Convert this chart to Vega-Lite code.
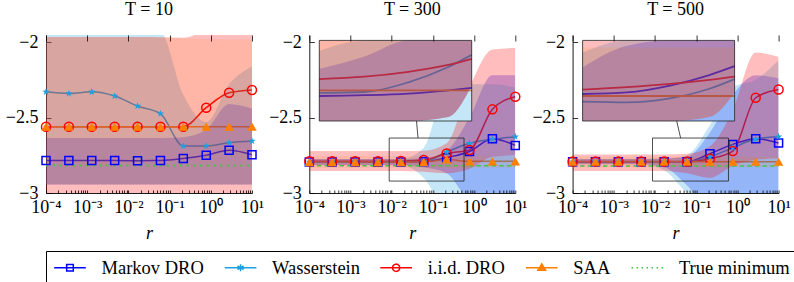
{
  "$schema": "https://vega.github.io/schema/vega-lite/v6.json",
  "padding": {"left": 5, "top": 1, "right": 0, "bottom": 0},
  "bounds": "flush",
  "spacing": 57.3,
  "datasets": {
    "main": [
      {"T":10,"method":"Markov DRO","r":0.0001,"mean":-2.785,"lo":-2.943,"hi":-2.635},
      {"T":10,"method":"Markov DRO","r":0.00035938,"mean":-2.785,"lo":-2.943,"hi":-2.635},
      {"T":10,"method":"Markov DRO","r":0.0012915,"mean":-2.785,"lo":-2.943,"hi":-2.635},
      {"T":10,"method":"Markov DRO","r":0.0046416,"mean":-2.785,"lo":-2.943,"hi":-2.635},
      {"T":10,"method":"Markov DRO","r":0.016681,"mean":-2.786,"lo":-2.943,"hi":-2.635},
      {"T":10,"method":"Markov DRO","r":0.059948,"mean":-2.785,"lo":-2.943,"hi":-2.635},
      {"T":10,"method":"Markov DRO","r":0.21544,"mean":-2.772,"lo":-2.943,"hi":-2.63},
      {"T":10,"method":"Markov DRO","r":0.77426,"mean":-2.75,"lo":-2.943,"hi":-2.58},
      {"T":10,"method":"Markov DRO","r":2.7826,"mean":-2.717,"lo":-2.943,"hi":-2.41},
      {"T":10,"method":"Markov DRO","r":10,"mean":-2.747,"lo":-2.943,"hi":-2.44},
      {"T":10,"method":"Wasserstein","r":0.0001,"mean":-2.33,"lo":-2.943,"hi":-1.9},
      {"T":10,"method":"Wasserstein","r":0.00035938,"mean":-2.341,"lo":-2.943,"hi":-1.9},
      {"T":10,"method":"Wasserstein","r":0.0012915,"mean":-2.33,"lo":-2.943,"hi":-1.9},
      {"T":10,"method":"Wasserstein","r":0.0046416,"mean":-2.358,"lo":-2.943,"hi":-1.9},
      {"T":10,"method":"Wasserstein","r":0.016681,"mean":-2.424,"lo":-2.943,"hi":-1.9},
      {"T":10,"method":"Wasserstein","r":0.059948,"mean":-2.475,"lo":-2.943,"hi":-1.93},
      {"T":10,"method":"Wasserstein","r":0.21544,"mean":-2.689,"lo":-2.943,"hi":-2.35},
      {"T":10,"method":"Wasserstein","r":0.77426,"mean":-2.689,"lo":-2.943,"hi":-2.53},
      {"T":10,"method":"Wasserstein","r":2.7826,"mean":-2.667,"lo":-2.943,"hi":-2.28},
      {"T":10,"method":"Wasserstein","r":10,"mean":-2.656,"lo":-2.943,"hi":-2.16},
      {"T":10,"method":"i.i.d. DRO","r":0.0001,"mean":-2.561,"lo":-3.1,"hi":-1.967},
      {"T":10,"method":"i.i.d. DRO","r":0.00035938,"mean":-2.561,"lo":-3.1,"hi":-1.967},
      {"T":10,"method":"i.i.d. DRO","r":0.0012915,"mean":-2.561,"lo":-3.1,"hi":-1.967},
      {"T":10,"method":"i.i.d. DRO","r":0.0046416,"mean":-2.561,"lo":-3.1,"hi":-1.967},
      {"T":10,"method":"i.i.d. DRO","r":0.016681,"mean":-2.561,"lo":-3.1,"hi":-1.967},
      {"T":10,"method":"i.i.d. DRO","r":0.059948,"mean":-2.561,"lo":-3.1,"hi":-1.968},
      {"T":10,"method":"i.i.d. DRO","r":0.21544,"mean":-2.561,"lo":-3.1,"hi":-1.972},
      {"T":10,"method":"i.i.d. DRO","r":0.77426,"mean":-2.435,"lo":-3.1,"hi":-1.93},
      {"T":10,"method":"i.i.d. DRO","r":2.7826,"mean":-2.336,"lo":-3.1,"hi":-1.92},
      {"T":10,"method":"i.i.d. DRO","r":10,"mean":-2.318,"lo":-3.1,"hi":-1.92},
      {"T":10,"method":"SAA","r":0.0001,"mean":-2.561,"lo":-2.943,"hi":-1.968},
      {"T":10,"method":"SAA","r":0.00035938,"mean":-2.561,"lo":-2.943,"hi":-1.968},
      {"T":10,"method":"SAA","r":0.0012915,"mean":-2.561,"lo":-2.943,"hi":-1.968},
      {"T":10,"method":"SAA","r":0.0046416,"mean":-2.561,"lo":-2.943,"hi":-1.968},
      {"T":10,"method":"SAA","r":0.016681,"mean":-2.561,"lo":-2.943,"hi":-1.968},
      {"T":10,"method":"SAA","r":0.059948,"mean":-2.561,"lo":-2.943,"hi":-1.97},
      {"T":10,"method":"SAA","r":0.21544,"mean":-2.561,"lo":-2.943,"hi":-1.975},
      {"T":10,"method":"SAA","r":0.77426,"mean":-2.561,"lo":-2.943,"hi":-1.98},
      {"T":10,"method":"SAA","r":2.7826,"mean":-2.561,"lo":-2.943,"hi":-1.982},
      {"T":10,"method":"SAA","r":10,"mean":-2.561,"lo":-2.943,"hi":-1.985},
      {"T":10,"method":"True minimum","r":0.0001,"mean":-2.818},
      {"T":10,"method":"True minimum","r":10,"mean":-2.818},

      {"T":300,"method":"Markov DRO","r":0.0001,"mean":-2.794,"lo":-2.815,"hi":-2.775},
      {"T":300,"method":"Markov DRO","r":0.00035938,"mean":-2.794,"lo":-2.815,"hi":-2.775},
      {"T":300,"method":"Markov DRO","r":0.0012915,"mean":-2.794,"lo":-2.815,"hi":-2.775},
      {"T":300,"method":"Markov DRO","r":0.0046416,"mean":-2.794,"lo":-2.815,"hi":-2.775},
      {"T":300,"method":"Markov DRO","r":0.016681,"mean":-2.794,"lo":-2.815,"hi":-2.775},
      {"T":300,"method":"Markov DRO","r":0.059948,"mean":-2.793,"lo":-2.83,"hi":-2.77},
      {"T":300,"method":"Markov DRO","r":0.21544,"mean":-2.766,"lo":-2.87,"hi":-2.72},
      {"T":300,"method":"Markov DRO","r":0.77426,"mean":-2.725,"lo":-3.05,"hi":-2.5},
      {"T":300,"method":"Markov DRO","r":2.7826,"mean":-2.64,"lo":-3.1,"hi":-2.22},
      {"T":300,"method":"Markov DRO","r":10,"mean":-2.685,"lo":-3.1,"hi":-2.22},
      {"T":300,"method":"Wasserstein","r":0.0001,"mean":-2.794,"lo":-2.815,"hi":-2.775},
      {"T":300,"method":"Wasserstein","r":0.00035938,"mean":-2.794,"lo":-2.815,"hi":-2.775},
      {"T":300,"method":"Wasserstein","r":0.0012915,"mean":-2.794,"lo":-2.815,"hi":-2.775},
      {"T":300,"method":"Wasserstein","r":0.0046416,"mean":-2.794,"lo":-2.815,"hi":-2.775},
      {"T":300,"method":"Wasserstein","r":0.016681,"mean":-2.794,"lo":-2.815,"hi":-2.775},
      {"T":300,"method":"Wasserstein","r":0.059948,"mean":-2.792,"lo":-2.9,"hi":-2.7},
      {"T":300,"method":"Wasserstein","r":0.21544,"mean":-2.729,"lo":-3.1,"hi":-2.3},
      {"T":300,"method":"Wasserstein","r":0.77426,"mean":-2.671,"lo":-3.1,"hi":-2.28},
      {"T":300,"method":"Wasserstein","r":2.7826,"mean":-2.645,"lo":-3.1,"hi":-2.28},
      {"T":300,"method":"Wasserstein","r":10,"mean":-2.627,"lo":-3.1,"hi":-2.3},
      {"T":300,"method":"i.i.d. DRO","r":0.0001,"mean":-2.79,"lo":-2.855,"hi":-2.722},
      {"T":300,"method":"i.i.d. DRO","r":0.00035938,"mean":-2.79,"lo":-2.855,"hi":-2.722},
      {"T":300,"method":"i.i.d. DRO","r":0.0012915,"mean":-2.79,"lo":-2.855,"hi":-2.722},
      {"T":300,"method":"i.i.d. DRO","r":0.0046416,"mean":-2.79,"lo":-2.855,"hi":-2.722},
      {"T":300,"method":"i.i.d. DRO","r":0.016681,"mean":-2.788,"lo":-2.855,"hi":-2.722},
      {"T":300,"method":"i.i.d. DRO","r":0.059948,"mean":-2.781,"lo":-2.86,"hi":-2.72},
      {"T":300,"method":"i.i.d. DRO","r":0.21544,"mean":-2.738,"lo":-2.87,"hi":-2.67},
      {"T":300,"method":"i.i.d. DRO","r":0.77426,"mean":-2.715,"lo":-2.84,"hi":-2.3},
      {"T":300,"method":"i.i.d. DRO","r":2.7826,"mean":-2.446,"lo":-2.76,"hi":-2.05},
      {"T":300,"method":"i.i.d. DRO","r":10,"mean":-2.362,"lo":-2.75,"hi":-2.04},
      {"T":300,"method":"SAA","r":0.0001,"mean":-2.795,"lo":-2.832,"hi":-2.755},
      {"T":300,"method":"SAA","r":0.00035938,"mean":-2.795,"lo":-2.832,"hi":-2.755},
      {"T":300,"method":"SAA","r":0.0012915,"mean":-2.795,"lo":-2.832,"hi":-2.755},
      {"T":300,"method":"SAA","r":0.0046416,"mean":-2.795,"lo":-2.832,"hi":-2.755},
      {"T":300,"method":"SAA","r":0.016681,"mean":-2.795,"lo":-2.832,"hi":-2.755},
      {"T":300,"method":"SAA","r":0.059948,"mean":-2.795,"lo":-2.832,"hi":-2.755},
      {"T":300,"method":"SAA","r":0.21544,"mean":-2.778,"lo":-2.832,"hi":-2.755},
      {"T":300,"method":"SAA","r":0.77426,"mean":-2.79,"lo":-2.832,"hi":-2.755},
      {"T":300,"method":"SAA","r":2.7826,"mean":-2.79,"lo":-2.832,"hi":-2.755},
      {"T":300,"method":"SAA","r":10,"mean":-2.79,"lo":-2.832,"hi":-2.755},
      {"T":300,"method":"True minimum","r":0.0001,"mean":-2.82},
      {"T":300,"method":"True minimum","r":10,"mean":-2.82},

      {"T":500,"method":"Markov DRO","r":0.0001,"mean":-2.793,"lo":-2.81,"hi":-2.775},
      {"T":500,"method":"Markov DRO","r":0.00035938,"mean":-2.793,"lo":-2.81,"hi":-2.775},
      {"T":500,"method":"Markov DRO","r":0.0012915,"mean":-2.793,"lo":-2.81,"hi":-2.775},
      {"T":500,"method":"Markov DRO","r":0.0046416,"mean":-2.793,"lo":-2.81,"hi":-2.775},
      {"T":500,"method":"Markov DRO","r":0.016681,"mean":-2.793,"lo":-2.83,"hi":-2.77},
      {"T":500,"method":"Markov DRO","r":0.059948,"mean":-2.793,"lo":-2.95,"hi":-2.76},
      {"T":500,"method":"Markov DRO","r":0.21544,"mean":-2.74,"lo":-3.1,"hi":-2.6},
      {"T":500,"method":"Markov DRO","r":0.77426,"mean":-2.678,"lo":-3.1,"hi":-2.35},
      {"T":500,"method":"Markov DRO","r":2.7826,"mean":-2.64,"lo":-3.1,"hi":-2.22},
      {"T":500,"method":"Markov DRO","r":10,"mean":-2.669,"lo":-3.1,"hi":-2.24},
      {"T":500,"method":"Wasserstein","r":0.0001,"mean":-2.793,"lo":-2.81,"hi":-2.775},
      {"T":500,"method":"Wasserstein","r":0.00035938,"mean":-2.793,"lo":-2.81,"hi":-2.775},
      {"T":500,"method":"Wasserstein","r":0.0012915,"mean":-2.793,"lo":-2.81,"hi":-2.775},
      {"T":500,"method":"Wasserstein","r":0.0046416,"mean":-2.793,"lo":-2.81,"hi":-2.775},
      {"T":500,"method":"Wasserstein","r":0.016681,"mean":-2.793,"lo":-2.85,"hi":-2.775},
      {"T":500,"method":"Wasserstein","r":0.059948,"mean":-2.793,"lo":-3.0,"hi":-2.75},
      {"T":500,"method":"Wasserstein","r":0.21544,"mean":-2.76,"lo":-3.1,"hi":-2.55},
      {"T":500,"method":"Wasserstein","r":0.77426,"mean":-2.7,"lo":-3.1,"hi":-2.3},
      {"T":500,"method":"Wasserstein","r":2.7826,"mean":-2.643,"lo":-3.1,"hi":-2.25},
      {"T":500,"method":"Wasserstein","r":10,"mean":-2.627,"lo":-3.1,"hi":-2.12},
      {"T":500,"method":"i.i.d. DRO","r":0.0001,"mean":-2.792,"lo":-2.855,"hi":-2.745},
      {"T":500,"method":"i.i.d. DRO","r":0.00035938,"mean":-2.792,"lo":-2.855,"hi":-2.745},
      {"T":500,"method":"i.i.d. DRO","r":0.0012915,"mean":-2.792,"lo":-2.855,"hi":-2.745},
      {"T":500,"method":"i.i.d. DRO","r":0.0046416,"mean":-2.792,"lo":-2.855,"hi":-2.745},
      {"T":500,"method":"i.i.d. DRO","r":0.016681,"mean":-2.792,"lo":-2.855,"hi":-2.745},
      {"T":500,"method":"i.i.d. DRO","r":0.059948,"mean":-2.792,"lo":-2.87,"hi":-2.74},
      {"T":500,"method":"i.i.d. DRO","r":0.21544,"mean":-2.773,"lo":-2.9,"hi":-2.69},
      {"T":500,"method":"i.i.d. DRO","r":0.77426,"mean":-2.722,"lo":-2.82,"hi":-2.45},
      {"T":500,"method":"i.i.d. DRO","r":2.7826,"mean":-2.369,"lo":-2.78,"hi":-2.07},
      {"T":500,"method":"i.i.d. DRO","r":10,"mean":-2.314,"lo":-2.77,"hi":-2.1},
      {"T":500,"method":"SAA","r":0.0001,"mean":-2.793,"lo":-2.83,"hi":-2.76},
      {"T":500,"method":"SAA","r":0.00035938,"mean":-2.793,"lo":-2.83,"hi":-2.76},
      {"T":500,"method":"SAA","r":0.0012915,"mean":-2.793,"lo":-2.83,"hi":-2.76},
      {"T":500,"method":"SAA","r":0.0046416,"mean":-2.793,"lo":-2.83,"hi":-2.76},
      {"T":500,"method":"SAA","r":0.016681,"mean":-2.793,"lo":-2.83,"hi":-2.76},
      {"T":500,"method":"SAA","r":0.059948,"mean":-2.793,"lo":-2.83,"hi":-2.76},
      {"T":500,"method":"SAA","r":0.21544,"mean":-2.793,"lo":-2.83,"hi":-2.76},
      {"T":500,"method":"SAA","r":0.77426,"mean":-2.793,"lo":-2.83,"hi":-2.76},
      {"T":500,"method":"SAA","r":2.7826,"mean":-2.793,"lo":-2.83,"hi":-2.76},
      {"T":500,"method":"SAA","r":10,"mean":-2.793,"lo":-2.83,"hi":-2.76},
      {"T":500,"method":"True minimum","r":0.0001,"mean":-2.821},
      {"T":500,"method":"True minimum","r":10,"mean":-2.821}
    ],
    "inset": [
      {"T":300,"method":"Markov DRO","r":0.0087,"mean":-2.809,"lo":-2.84,"hi":-2.7755},
      {"T":300,"method":"Markov DRO","r":0.03,"mean":-2.808,"lo":-2.84,"hi":-2.76},
      {"T":300,"method":"Markov DRO","r":0.1,"mean":-2.806,"lo":-2.84,"hi":-2.74},
      {"T":300,"method":"Markov DRO","r":0.3,"mean":-2.802,"lo":-2.835,"hi":-2.74},
      {"T":300,"method":"Markov DRO","r":0.57,"mean":-2.799,"lo":-2.796,"hi":-2.74},
      {"T":300,"method":"Wasserstein","r":0.0087,"mean":-2.805,"lo":-2.84,"hi":-2.753},
      {"T":300,"method":"Wasserstein","r":0.03,"mean":-2.804,"lo":-2.84,"hi":-2.74},
      {"T":300,"method":"Wasserstein","r":0.1,"mean":-2.792,"lo":-2.84,"hi":-2.74},
      {"T":300,"method":"Wasserstein","r":0.3,"mean":-2.773,"lo":-2.84,"hi":-2.74},
      {"T":300,"method":"Wasserstein","r":0.57,"mean":-2.758,"lo":-2.84,"hi":-2.74},
      {"T":300,"method":"i.i.d. DRO","r":0.0087,"mean":-2.788,"lo":-2.84,"hi":-2.74},
      {"T":300,"method":"i.i.d. DRO","r":0.03,"mean":-2.785,"lo":-2.84,"hi":-2.74},
      {"T":300,"method":"i.i.d. DRO","r":0.1,"mean":-2.779,"lo":-2.84,"hi":-2.74},
      {"T":300,"method":"i.i.d. DRO","r":0.3,"mean":-2.7705,"lo":-2.835,"hi":-2.74},
      {"T":300,"method":"i.i.d. DRO","r":0.57,"mean":-2.763,"lo":-2.796,"hi":-2.74},
      {"T":300,"method":"SAA","r":0.0087,"mean":-2.802,"lo":-2.84,"hi":-2.74},
      {"T":300,"method":"SAA","r":0.03,"mean":-2.802,"lo":-2.84,"hi":-2.74},
      {"T":300,"method":"SAA","r":0.1,"mean":-2.802,"lo":-2.84,"hi":-2.74},
      {"T":300,"method":"SAA","r":0.3,"mean":-2.802,"lo":-2.835,"hi":-2.74},
      {"T":300,"method":"SAA","r":0.57,"mean":-2.802,"lo":-2.796,"hi":-2.74},
      {"T":500,"method":"Markov DRO","r":0.0087,"mean":-2.8065,"lo":-2.84,"hi":-2.7735},
      {"T":500,"method":"Markov DRO","r":0.03,"mean":-2.8045,"lo":-2.84,"hi":-2.7466},
      {"T":500,"method":"Markov DRO","r":0.1,"mean":-2.796,"lo":-2.84,"hi":-2.74},
      {"T":500,"method":"Markov DRO","r":0.3,"mean":-2.783,"lo":-2.84,"hi":-2.74},
      {"T":500,"method":"Markov DRO","r":0.607,"mean":-2.772,"lo":-2.84,"hi":-2.74},
      {"T":500,"method":"Wasserstein","r":0.0087,"mean":-2.816,"lo":-2.84,"hi":-2.755},
      {"T":500,"method":"Wasserstein","r":0.03,"mean":-2.817,"lo":-2.84,"hi":-2.74},
      {"T":500,"method":"Wasserstein","r":0.1,"mean":-2.812,"lo":-2.84,"hi":-2.74},
      {"T":500,"method":"Wasserstein","r":0.3,"mean":-2.8,"lo":-2.84,"hi":-2.74},
      {"T":500,"method":"Wasserstein","r":0.607,"mean":-2.788,"lo":-2.84,"hi":-2.74},
      {"T":500,"method":"i.i.d. DRO","r":0.0087,"mean":-2.801,"lo":-2.84,"hi":-2.74},
      {"T":500,"method":"i.i.d. DRO","r":0.03,"mean":-2.798,"lo":-2.84,"hi":-2.74},
      {"T":500,"method":"i.i.d. DRO","r":0.1,"mean":-2.794,"lo":-2.84,"hi":-2.74},
      {"T":500,"method":"i.i.d. DRO","r":0.3,"mean":-2.789,"lo":-2.835,"hi":-2.74},
      {"T":500,"method":"i.i.d. DRO","r":0.607,"mean":-2.785,"lo":-2.8045,"hi":-2.74},
      {"T":500,"method":"SAA","r":0.0087,"mean":-2.809,"lo":-2.84,"hi":-2.7487},
      {"T":500,"method":"SAA","r":0.03,"mean":-2.809,"lo":-2.84,"hi":-2.7487},
      {"T":500,"method":"SAA","r":0.1,"mean":-2.809,"lo":-2.84,"hi":-2.7487},
      {"T":500,"method":"SAA","r":0.3,"mean":-2.809,"lo":-2.835,"hi":-2.7487},
      {"T":500,"method":"SAA","r":0.607,"mean":-2.809,"lo":-2.8045,"hi":-2.7487}
    ],
    "zoom": [
      {"T":300,"rmin":0.0087,"rmax":0.57,"vmin":-2.921,"vmax":-2.636,"imin":-2.84,"imax":-2.74,"c1r":0.04,"c1v":-2.523,"c2r":0.0436,"c2v":-2.636},
      {"T":500,"rmin":0.0087,"rmax":0.607,"vmin":-2.921,"vmax":-2.636,"imin":-2.84,"imax":-2.74,"c1r":0.0336,"c1v":-2.523,"c2r":0.0419,"c2v":-2.636}
    ]
  },
  "hconcat": [
    {
      "width": 206, "height": 158,
      "title": {"text": "T = 10", "frame": "group", "offset": 0, "baseline": "alphabetic", "anchor": "middle"},
      "data": {"name": "main"},
      "transform": [{"filter": "datum.T == 10"}],
      "encoding": {
        "x": {"field": "r", "type": "quantitative",
          "scale": {"type": "log", "domain": [0.0001, 10], "nice": false},
          "axis": {"values": [0.0001,0.0002,0.0003,0.0004,0.0005,0.0006,0.0007,0.0008,0.0009,0.001,0.002,0.003,0.004,0.005,0.006,0.007,0.008,0.009,0.01,0.02,0.03,0.04,0.05,0.06,0.07,0.08,0.09,0.1,0.2,0.3,0.4,0.5,0.6,0.7,0.8,0.9,1,2,3,4,5,6,7,8,9,10],
            "labelExpr": "datum.value==0.0001?'10⁻⁴':datum.value==0.001?'10⁻³':datum.value==0.01?'10⁻²':datum.value==0.1?'10⁻¹':datum.value==1?'10⁰':datum.value==10?'10¹':''",
            "labelOverlap": false, "labelFlush": false, "tickSize": -3,
            "grid": true, "gridDash": [6, 400], "gridColor": "#000", "gridWidth": 0.8,
            "gridOpacity": {"condition": {"test": "datum.value==0.0001||datum.value==0.001||datum.value==0.01||datum.value==0.1||datum.value==1||datum.value==10", "value": 1}, "value": 0},
            "zindex": 1,
            "labelPadding": 8.5, "title": "r", "titleFontStyle": "italic", "titlePadding": 8}}
      },
      "layer": [
        {"transform": [{"filter": "datum.method == 'Markov DRO'"}],
         "mark": {"type": "line", "interpolate": "monotone", "strokeWidth": 1.5, "clip": true, "color": "#0000ff"},
         "encoding": {"y": {"field": "mean", "type": "quantitative", "scale": {"domain": [-3, -1.9535], "nice": false, "zero": false},
             "axis": {"values": [-3, -2.5, -2], "format": ".1~f", "tickSize": -5, "labelPadding": 13, "title": null}}}},
        {"transform": [{"filter": "datum.method == 'Wasserstein'"}],
         "mark": {"type": "line", "interpolate": "monotone", "strokeWidth": 1.5, "clip": true, "color": "#1e9fe0"},
         "encoding": {"y": {"field": "mean", "type": "quantitative"}}},
        {"transform": [{"filter": "datum.method == 'i.i.d. DRO'"}],
         "mark": {"type": "line", "interpolate": "monotone", "strokeWidth": 1.5, "clip": true, "color": "#ff0000"},
         "encoding": {"y": {"field": "mean", "type": "quantitative"}}},
        {"transform": [{"filter": "datum.method == 'SAA'"}],
         "mark": {"type": "line", "interpolate": "monotone", "strokeWidth": 1.5, "clip": true, "color": "#ff8000"},
         "encoding": {"y": {"field": "mean", "type": "quantitative"}}},
        {"transform": [{"filter": "datum.method == 'Markov DRO'"}],
         "mark": {"type": "area", "interpolate": "monotone", "clip": true, "color": "#0000ff", "opacity": 0.26},
         "encoding": {"y": {"field": "lo", "type": "quantitative"}, "y2": {"field": "hi"}}},
        {"transform": [{"filter": "datum.method == 'Wasserstein'"}],
         "mark": {"type": "area", "interpolate": "monotone", "clip": true, "color": "#1e9fe0", "opacity": 0.26},
         "encoding": {"y": {"field": "lo", "type": "quantitative"}, "y2": {"field": "hi"}}},
        {"transform": [{"filter": "datum.method == 'i.i.d. DRO'"}],
         "mark": {"type": "area", "interpolate": "monotone", "clip": true, "color": "#ff0000", "opacity": 0.26},
         "encoding": {"y": {"field": "lo", "type": "quantitative"}, "y2": {"field": "hi"}}},
        {"transform": [{"filter": "datum.method == 'SAA'"}],
         "mark": {"type": "area", "interpolate": "monotone", "clip": true, "color": "#ff8000", "opacity": 0.12},
         "encoding": {"y": {"field": "lo", "type": "quantitative"}, "y2": {"field": "hi"}}},
        {"transform": [{"filter": "datum.method == 'True minimum'"}],
         "mark": {"type": "line", "color": "#3cc83c", "strokeDash": [2, 4.7], "strokeWidth": 2},
         "encoding": {"y": {"field": "mean", "type": "quantitative"}}},
        {"transform": [{"filter": "datum.method == 'Markov DRO'"}],
         "mark": {"type": "point", "shape": "square", "size": 64, "filled": false, "color": "#0000ff", "strokeWidth": 1.5, "opacity": 1},
         "encoding": {"y": {"field": "mean", "type": "quantitative"}}},
        {"transform": [{"filter": "datum.method == 'Wasserstein'"}],
         "mark": {"type": "point", "shape": "M0,-1L0.235,-0.324L0.951,-0.309L0.38,0.124L0.588,0.809L0,0.4L-0.588,0.809L-0.38,0.124L-0.951,-0.309L-0.235,-0.324Z", "size": 60, "filled": true, "color": "#1e9fe0", "opacity": 1},
         "encoding": {"y": {"field": "mean", "type": "quantitative"}}},
        {"transform": [{"filter": "datum.method == 'i.i.d. DRO'"}],
         "mark": {"type": "point", "shape": "circle", "size": 81, "filled": false, "color": "#ff0000", "strokeWidth": 1.5, "opacity": 1},
         "encoding": {"y": {"field": "mean", "type": "quantitative"}}},
        {"transform": [{"filter": "datum.method == 'SAA'"}],
         "mark": {"type": "point", "shape": "triangle-up", "size": 90, "filled": true, "color": "#ff8000", "opacity": 1},
         "encoding": {"y": {"field": "mean", "type": "quantitative"}}},
        {"transform": [{"filter": "datum.r == 10"}],
         "mark": {"type": "point", "filled": false, "size": 340, "strokeWidth": 1.5, "opacity": 0},
         "encoding": {
           "y": {"field": "mean", "type": "quantitative"},
           "color": {"field": "method", "type": "nominal",
             "scale": {"domain": ["Markov DRO","Wasserstein","i.i.d. DRO","SAA","True minimum"], "range": ["#0000ff","#1e9fe0","#ff0000","#ff8000","#3cc83c"]},
             "legend": {"title": null, "orient": "bottom", "direction": "horizontal", "offset": 8, "padding": 6.5, "strokeColor": "#000", "symbolSize": 340, "symbolStrokeWidth": 1.5, "symbolOpacity": 1, "labelOffset": 29, "columnPadding": 16.6, "labelFont": "Liberation Serif", "labelFontSize": 18.5, "labelColor": "#000"}},
           "shape": {"field": "method", "type": "nominal",
             "scale": {"domain": ["Markov DRO","Wasserstein","i.i.d. DRO","SAA","True minimum"],
               "range": ["M-0.91,0H2.53M0.45,-0.36H1.17V0.36H0.45Z","M-0.91,0H2.53M0.81,-0.38V0.38M0.48,-0.19L1.14,0.19M0.48,0.19L1.14,-0.19","M-0.91,0H2.53M1.21,0L1.156,0.2L1.01,0.346L0.81,0.4L0.61,0.346L0.464,0.2L0.41,0L0.464,-0.2L0.61,-0.346L0.81,-0.4L1.01,-0.346L1.156,-0.2Z","M-0.91,0H2.53M0.81,-0.42L1.23,0.28H0.39Z","M-0.91,0H2.53"]}},
           "fill": {"field": "method", "type": "nominal",
             "scale": {"domain": ["Markov DRO","Wasserstein","i.i.d. DRO","SAA","True minimum"], "range": ["transparent","transparent","transparent","#ff8000","transparent"]}},
           "strokeDash": {"field": "method", "type": "nominal",
             "scale": {"domain": ["Markov DRO","Wasserstein","i.i.d. DRO","SAA","True minimum"], "range": [[1,0],[1,0],[1,0],[1,0],[1.5,3.5]]}}
         }}
      ]
    },
    {
      "width": 206, "height": 158,
      "title": {"text": "T = 300", "frame": "group", "offset": 0, "baseline": "alphabetic", "anchor": "middle"},
      "layer": [
        {
          "data": {"name": "main"},
          "transform": [{"filter": "datum.T == 300"}],
          "encoding": {
            "x": {"field": "r", "type": "quantitative",
              "scale": {"type": "log", "domain": [0.0001, 10], "nice": false},
              "axis": {"values": [0.0001,0.0002,0.0003,0.0004,0.0005,0.0006,0.0007,0.0008,0.0009,0.001,0.002,0.003,0.004,0.005,0.006,0.007,0.008,0.009,0.01,0.02,0.03,0.04,0.05,0.06,0.07,0.08,0.09,0.1,0.2,0.3,0.4,0.5,0.6,0.7,0.8,0.9,1,2,3,4,5,6,7,8,9,10],
                "labelExpr": "datum.value==0.0001?'10⁻⁴':datum.value==0.001?'10⁻³':datum.value==0.01?'10⁻²':datum.value==0.1?'10⁻¹':datum.value==1?'10⁰':datum.value==10?'10¹':''",
                "labelOverlap": false, "labelFlush": false, "tickSize": -3,
                "grid": true, "gridDash": [6, 400], "gridColor": "#000", "gridWidth": 0.8,
                "gridOpacity": {"condition": {"test": "datum.value==0.0001||datum.value==0.001||datum.value==0.01||datum.value==0.1||datum.value==1||datum.value==10", "value": 1}, "value": 0},
                "zindex": 1,
                "labelPadding": 8.5, "title": "r", "titleFontStyle": "italic", "titlePadding": 8}}
          },
          "layer": [
            {"transform": [{"filter": "datum.method == 'Markov DRO'"}],
             "mark": {"type": "line", "interpolate": "monotone", "strokeWidth": 1.5, "clip": true, "color": "#0000ff"},
             "encoding": {"y": {"field": "mean", "type": "quantitative", "scale": {"domain": [-3, -1.9535], "nice": false, "zero": false},
                 "axis": {"values": [-3, -2.5, -2], "format": ".1~f", "tickSize": -5, "labelPadding": 13, "title": null}}}},
            {"transform": [{"filter": "datum.method == 'Wasserstein'"}],
             "mark": {"type": "line", "interpolate": "monotone", "strokeWidth": 1.5, "clip": true, "color": "#1e9fe0"},
             "encoding": {"y": {"field": "mean", "type": "quantitative"}}},
            {"transform": [{"filter": "datum.method == 'i.i.d. DRO'"}],
             "mark": {"type": "line", "interpolate": "monotone", "strokeWidth": 1.5, "clip": true, "color": "#ff0000"},
             "encoding": {"y": {"field": "mean", "type": "quantitative"}}},
            {"transform": [{"filter": "datum.method == 'SAA'"}],
             "mark": {"type": "line", "interpolate": "monotone", "strokeWidth": 1.5, "clip": true, "color": "#ff8000"},
             "encoding": {"y": {"field": "mean", "type": "quantitative"}}},
            {"transform": [{"filter": "datum.method == 'Markov DRO'"}],
             "mark": {"type": "area", "interpolate": "monotone", "clip": true, "color": "#0000ff", "opacity": 0.26},
             "encoding": {"y": {"field": "lo", "type": "quantitative"}, "y2": {"field": "hi"}}},
            {"transform": [{"filter": "datum.method == 'Wasserstein'"}],
             "mark": {"type": "area", "interpolate": "monotone", "clip": true, "color": "#1e9fe0", "opacity": 0.26},
             "encoding": {"y": {"field": "lo", "type": "quantitative"}, "y2": {"field": "hi"}}},
            {"transform": [{"filter": "datum.method == 'i.i.d. DRO'"}],
             "mark": {"type": "area", "interpolate": "monotone", "clip": true, "color": "#ff0000", "opacity": 0.26},
             "encoding": {"y": {"field": "lo", "type": "quantitative"}, "y2": {"field": "hi"}}},
            {"transform": [{"filter": "datum.method == 'SAA'"}],
             "mark": {"type": "area", "interpolate": "monotone", "clip": true, "color": "#ff8000", "opacity": 0.12},
             "encoding": {"y": {"field": "lo", "type": "quantitative"}, "y2": {"field": "hi"}}},
            {"transform": [{"filter": "datum.method == 'True minimum'"}],
             "mark": {"type": "line", "color": "#44c444", "strokeDash": [4.3, 3.3], "strokeWidth": 1.5},
             "encoding": {"y": {"field": "mean", "type": "quantitative"}}},
            {"transform": [{"filter": "datum.method == 'Markov DRO'"}],
             "mark": {"type": "point", "shape": "square", "size": 64, "filled": false, "color": "#0000ff", "strokeWidth": 1.5, "opacity": 1},
             "encoding": {"y": {"field": "mean", "type": "quantitative"}}},
            {"transform": [{"filter": "datum.method == 'Wasserstein'"}],
             "mark": {"type": "point", "shape": "M0,-1L0.235,-0.324L0.951,-0.309L0.38,0.124L0.588,0.809L0,0.4L-0.588,0.809L-0.38,0.124L-0.951,-0.309L-0.235,-0.324Z", "size": 60, "filled": true, "color": "#1e9fe0", "opacity": 1},
             "encoding": {"y": {"field": "mean", "type": "quantitative"}}},
            {"transform": [{"filter": "datum.method == 'i.i.d. DRO'"}],
             "mark": {"type": "point", "shape": "circle", "size": 81, "filled": false, "color": "#ff0000", "strokeWidth": 1.5, "opacity": 1},
             "encoding": {"y": {"field": "mean", "type": "quantitative"}}},
            {"transform": [{"filter": "datum.method == 'SAA'"}],
             "mark": {"type": "point", "shape": "triangle-up", "size": 90, "filled": true, "color": "#ff8000", "opacity": 1},
             "encoding": {"y": {"field": "mean", "type": "quantitative"}}},
            {"data": {"name": "zoom"}, "transform": [{"filter": "datum.T == 300"}],
             "mark": {"type": "rect", "fill": "white", "fillOpacity": 0, "stroke": "#222", "strokeWidth": 0.8},
             "encoding": {"x": {"field": "rmin", "type": "quantitative"}, "x2": {"field": "rmax"}, "y": {"field": "vmin", "type": "quantitative"}, "y2": {"field": "vmax"}}},
            {"data": {"name": "zoom"}, "transform": [{"filter": "datum.T == 300"}],
             "mark": {"type": "rule", "color": "#222", "strokeWidth": 0.8},
             "encoding": {"x": {"field": "c1r", "type": "quantitative"}, "x2": {"field": "c2r"}, "y": {"field": "c1v", "type": "quantitative"}, "y2": {"field": "c2v"}}}
          ]
        },
        {
          "data": {"name": "inset"},
          "transform": [{"filter": "datum.T == 300"}],
          "encoding": {
            "x": {"field": "r", "type": "quantitative", "scale": {"type": "log", "domain": [0.0087, 0.57], "range": [10, 162.4], "nice": false}, "axis": null}
          },
          "layer": [
            {"data": {"name": "zoom"}, "transform": [{"filter": "datum.T == 300"}],
             "mark": {"type": "rect", "fill": "white", "strokeWidth": 0},
             "encoding": {"x": {"field": "rmin", "type": "quantitative"}, "x2": {"field": "rmax"},
               "y": {"field": "imin", "type": "quantitative", "scale": {"domain": [-2.84, -2.74], "range": [86, 5.4], "nice": false, "zero": false}, "axis": null}, "y2": {"field": "imax"}}},
            {"transform": [{"filter": "datum.method == 'Markov DRO'"}],
             "mark": {"type": "line", "interpolate": "monotone", "strokeWidth": 1.8, "color": "#0000ff"},
             "encoding": {"y": {"field": "mean", "type": "quantitative"}}},
            {"transform": [{"filter": "datum.method == 'Wasserstein'"}],
             "mark": {"type": "line", "interpolate": "monotone", "strokeWidth": 1.8, "color": "#1e9fe0"},
             "encoding": {"y": {"field": "mean", "type": "quantitative"}}},
            {"transform": [{"filter": "datum.method == 'i.i.d. DRO'"}],
             "mark": {"type": "line", "interpolate": "monotone", "strokeWidth": 1.8, "color": "#ff0000"},
             "encoding": {"y": {"field": "mean", "type": "quantitative"}}},
            {"transform": [{"filter": "datum.method == 'SAA'"}],
             "mark": {"type": "line", "interpolate": "monotone", "strokeWidth": 1.8, "color": "#ff8000"},
             "encoding": {"y": {"field": "mean", "type": "quantitative"}}},
            {"transform": [{"filter": "datum.method == 'Markov DRO'"}],
             "mark": {"type": "area", "interpolate": "monotone", "color": "#0000ff", "opacity": 0.26},
             "encoding": {"y": {"field": "lo", "type": "quantitative"}, "y2": {"field": "hi"}}},
            {"transform": [{"filter": "datum.method == 'Wasserstein'"}],
             "mark": {"type": "area", "interpolate": "monotone", "color": "#1e9fe0", "opacity": 0.26},
             "encoding": {"y": {"field": "lo", "type": "quantitative"}, "y2": {"field": "hi"}}},
            {"transform": [{"filter": "datum.method == 'i.i.d. DRO'"}],
             "mark": {"type": "area", "interpolate": "monotone", "color": "#ff0000", "opacity": 0.26},
             "encoding": {"y": {"field": "lo", "type": "quantitative"}, "y2": {"field": "hi"}}},
            {"transform": [{"filter": "datum.method == 'SAA'"}],
             "mark": {"type": "area", "interpolate": "monotone", "color": "#ff8000", "opacity": 0.12},
             "encoding": {"y": {"field": "lo", "type": "quantitative"}, "y2": {"field": "hi"}}},
            {"data": {"name": "zoom"}, "transform": [{"filter": "datum.T == 300"}],
             "mark": {"type": "rect", "fill": "white", "fillOpacity": 0, "stroke": "#222", "strokeWidth": 0.8},
             "encoding": {"x": {"field": "rmin", "type": "quantitative"}, "x2": {"field": "rmax"}, "y": {"field": "imin", "type": "quantitative"}, "y2": {"field": "imax"}}}
          ]
        }
      ],
      "resolve": {"scale": {"x": "independent", "y": "independent"}}
    },
    {
      "width": 206, "height": 158,
      "title": {"text": "T = 500", "frame": "group", "offset": 0, "baseline": "alphabetic", "anchor": "middle"},
      "layer": [
        {
          "data": {"name": "main"},
          "transform": [{"filter": "datum.T == 500"}],
          "encoding": {
            "x": {"field": "r", "type": "quantitative",
              "scale": {"type": "log", "domain": [0.0001, 10], "nice": false},
              "axis": {"values": [0.0001,0.0002,0.0003,0.0004,0.0005,0.0006,0.0007,0.0008,0.0009,0.001,0.002,0.003,0.004,0.005,0.006,0.007,0.008,0.009,0.01,0.02,0.03,0.04,0.05,0.06,0.07,0.08,0.09,0.1,0.2,0.3,0.4,0.5,0.6,0.7,0.8,0.9,1,2,3,4,5,6,7,8,9,10],
                "labelExpr": "datum.value==0.0001?'10⁻⁴':datum.value==0.001?'10⁻³':datum.value==0.01?'10⁻²':datum.value==0.1?'10⁻¹':datum.value==1?'10⁰':datum.value==10?'10¹':''",
                "labelOverlap": false, "labelFlush": false, "tickSize": -3,
                "grid": true, "gridDash": [6, 400], "gridColor": "#000", "gridWidth": 0.8,
                "gridOpacity": {"condition": {"test": "datum.value==0.0001||datum.value==0.001||datum.value==0.01||datum.value==0.1||datum.value==1||datum.value==10", "value": 1}, "value": 0},
                "zindex": 1,
                "labelPadding": 8.5, "title": "r", "titleFontStyle": "italic", "titlePadding": 8}}
          },
          "layer": [
            {"transform": [{"filter": "datum.method == 'Markov DRO'"}],
             "mark": {"type": "line", "interpolate": "monotone", "strokeWidth": 1.5, "clip": true, "color": "#0000ff"},
             "encoding": {"y": {"field": "mean", "type": "quantitative", "scale": {"domain": [-3, -1.9535], "nice": false, "zero": false},
                 "axis": {"values": [-3, -2.5, -2], "format": ".1~f", "tickSize": -5, "labelPadding": 13, "title": null}}}},
            {"transform": [{"filter": "datum.method == 'Wasserstein'"}],
             "mark": {"type": "line", "interpolate": "monotone", "strokeWidth": 1.5, "clip": true, "color": "#1e9fe0"},
             "encoding": {"y": {"field": "mean", "type": "quantitative"}}},
            {"transform": [{"filter": "datum.method == 'i.i.d. DRO'"}],
             "mark": {"type": "line", "interpolate": "monotone", "strokeWidth": 1.5, "clip": true, "color": "#ff0000"},
             "encoding": {"y": {"field": "mean", "type": "quantitative"}}},
            {"transform": [{"filter": "datum.method == 'SAA'"}],
             "mark": {"type": "line", "interpolate": "monotone", "strokeWidth": 1.5, "clip": true, "color": "#ff8000"},
             "encoding": {"y": {"field": "mean", "type": "quantitative"}}},
            {"transform": [{"filter": "datum.method == 'Markov DRO'"}],
             "mark": {"type": "area", "interpolate": "monotone", "clip": true, "color": "#0000ff", "opacity": 0.26},
             "encoding": {"y": {"field": "lo", "type": "quantitative"}, "y2": {"field": "hi"}}},
            {"transform": [{"filter": "datum.method == 'Wasserstein'"}],
             "mark": {"type": "area", "interpolate": "monotone", "clip": true, "color": "#1e9fe0", "opacity": 0.26},
             "encoding": {"y": {"field": "lo", "type": "quantitative"}, "y2": {"field": "hi"}}},
            {"transform": [{"filter": "datum.method == 'i.i.d. DRO'"}],
             "mark": {"type": "area", "interpolate": "monotone", "clip": true, "color": "#ff0000", "opacity": 0.26},
             "encoding": {"y": {"field": "lo", "type": "quantitative"}, "y2": {"field": "hi"}}},
            {"transform": [{"filter": "datum.method == 'SAA'"}],
             "mark": {"type": "area", "interpolate": "monotone", "clip": true, "color": "#ff8000", "opacity": 0.12},
             "encoding": {"y": {"field": "lo", "type": "quantitative"}, "y2": {"field": "hi"}}},
            {"transform": [{"filter": "datum.method == 'True minimum'"}],
             "mark": {"type": "line", "color": "#44c444", "strokeDash": [4.3, 3.3], "strokeWidth": 1.5},
             "encoding": {"y": {"field": "mean", "type": "quantitative"}}},
            {"transform": [{"filter": "datum.method == 'Markov DRO'"}],
             "mark": {"type": "point", "shape": "square", "size": 64, "filled": false, "color": "#0000ff", "strokeWidth": 1.5, "opacity": 1},
             "encoding": {"y": {"field": "mean", "type": "quantitative"}}},
            {"transform": [{"filter": "datum.method == 'Wasserstein'"}],
             "mark": {"type": "point", "shape": "M0,-1L0.235,-0.324L0.951,-0.309L0.38,0.124L0.588,0.809L0,0.4L-0.588,0.809L-0.38,0.124L-0.951,-0.309L-0.235,-0.324Z", "size": 60, "filled": true, "color": "#1e9fe0", "opacity": 1},
             "encoding": {"y": {"field": "mean", "type": "quantitative"}}},
            {"transform": [{"filter": "datum.method == 'i.i.d. DRO'"}],
             "mark": {"type": "point", "shape": "circle", "size": 81, "filled": false, "color": "#ff0000", "strokeWidth": 1.5, "opacity": 1},
             "encoding": {"y": {"field": "mean", "type": "quantitative"}}},
            {"transform": [{"filter": "datum.method == 'SAA'"}],
             "mark": {"type": "point", "shape": "triangle-up", "size": 90, "filled": true, "color": "#ff8000", "opacity": 1},
             "encoding": {"y": {"field": "mean", "type": "quantitative"}}},
            {"data": {"name": "zoom"}, "transform": [{"filter": "datum.T == 500"}],
             "mark": {"type": "rect", "fill": "white", "fillOpacity": 0, "stroke": "#222", "strokeWidth": 0.8},
             "encoding": {"x": {"field": "rmin", "type": "quantitative"}, "x2": {"field": "rmax"}, "y": {"field": "vmin", "type": "quantitative"}, "y2": {"field": "vmax"}}},
            {"data": {"name": "zoom"}, "transform": [{"filter": "datum.T == 500"}],
             "mark": {"type": "rule", "color": "#222", "strokeWidth": 0.8},
             "encoding": {"x": {"field": "c1r", "type": "quantitative"}, "x2": {"field": "c2r"}, "y": {"field": "c1v", "type": "quantitative"}, "y2": {"field": "c2v"}}}
          ]
        },
        {
          "data": {"name": "inset"},
          "transform": [{"filter": "datum.T == 500"}],
          "encoding": {
            "x": {"field": "r", "type": "quantitative", "scale": {"type": "log", "domain": [0.0087, 0.607], "range": [10, 162], "nice": false}, "axis": null}
          },
          "layer": [
            {"data": {"name": "zoom"}, "transform": [{"filter": "datum.T == 500"}],
             "mark": {"type": "rect", "fill": "white", "strokeWidth": 0},
             "encoding": {"x": {"field": "rmin", "type": "quantitative"}, "x2": {"field": "rmax"},
               "y": {"field": "imin", "type": "quantitative", "scale": {"domain": [-2.84, -2.74], "range": [86, 5.4], "nice": false, "zero": false}, "axis": null}, "y2": {"field": "imax"}}},
            {"transform": [{"filter": "datum.method == 'Markov DRO'"}],
             "mark": {"type": "line", "interpolate": "monotone", "strokeWidth": 1.8, "color": "#0000ff"},
             "encoding": {"y": {"field": "mean", "type": "quantitative"}}},
            {"transform": [{"filter": "datum.method == 'Wasserstein'"}],
             "mark": {"type": "line", "interpolate": "monotone", "strokeWidth": 1.8, "color": "#1e9fe0"},
             "encoding": {"y": {"field": "mean", "type": "quantitative"}}},
            {"transform": [{"filter": "datum.method == 'i.i.d. DRO'"}],
             "mark": {"type": "line", "interpolate": "monotone", "strokeWidth": 1.8, "color": "#ff0000"},
             "encoding": {"y": {"field": "mean", "type": "quantitative"}}},
            {"transform": [{"filter": "datum.method == 'SAA'"}],
             "mark": {"type": "line", "interpolate": "monotone", "strokeWidth": 1.8, "color": "#ff8000"},
             "encoding": {"y": {"field": "mean", "type": "quantitative"}}},
            {"transform": [{"filter": "datum.method == 'Markov DRO'"}],
             "mark": {"type": "area", "interpolate": "monotone", "color": "#0000ff", "opacity": 0.26},
             "encoding": {"y": {"field": "lo", "type": "quantitative"}, "y2": {"field": "hi"}}},
            {"transform": [{"filter": "datum.method == 'Wasserstein'"}],
             "mark": {"type": "area", "interpolate": "monotone", "color": "#1e9fe0", "opacity": 0.26},
             "encoding": {"y": {"field": "lo", "type": "quantitative"}, "y2": {"field": "hi"}}},
            {"transform": [{"filter": "datum.method == 'i.i.d. DRO'"}],
             "mark": {"type": "area", "interpolate": "monotone", "color": "#ff0000", "opacity": 0.26},
             "encoding": {"y": {"field": "lo", "type": "quantitative"}, "y2": {"field": "hi"}}},
            {"transform": [{"filter": "datum.method == 'SAA'"}],
             "mark": {"type": "area", "interpolate": "monotone", "color": "#ff8000", "opacity": 0.12},
             "encoding": {"y": {"field": "lo", "type": "quantitative"}, "y2": {"field": "hi"}}},
            {"data": {"name": "zoom"}, "transform": [{"filter": "datum.T == 500"}],
             "mark": {"type": "rect", "fill": "white", "fillOpacity": 0, "stroke": "#222", "strokeWidth": 0.8},
             "encoding": {"x": {"field": "rmin", "type": "quantitative"}, "x2": {"field": "rmax"}, "y": {"field": "imin", "type": "quantitative"}, "y2": {"field": "imax"}}}
          ]
        }
      ],
      "resolve": {"scale": {"x": "independent", "y": "independent"}}
    }
  ],
  "config": {
    "view": {"stroke": null},
    "font": "Liberation Serif",
    "axis": {"labelFont": "Liberation Serif", "labelFontSize": 18, "labelColor": "#000", "tickColor": "#000", "tickWidth": 0.8, "domainColor": "#000", "domainWidth": 0.9, "grid": false, "titleFont": "Liberation Serif", "titleFontSize": 18, "titleFontWeight": "normal", "titleColor": "#000"},
    "title": {"font": "Liberation Serif", "fontSize": 18, "fontWeight": "normal", "color": "#000"}
  }
}
